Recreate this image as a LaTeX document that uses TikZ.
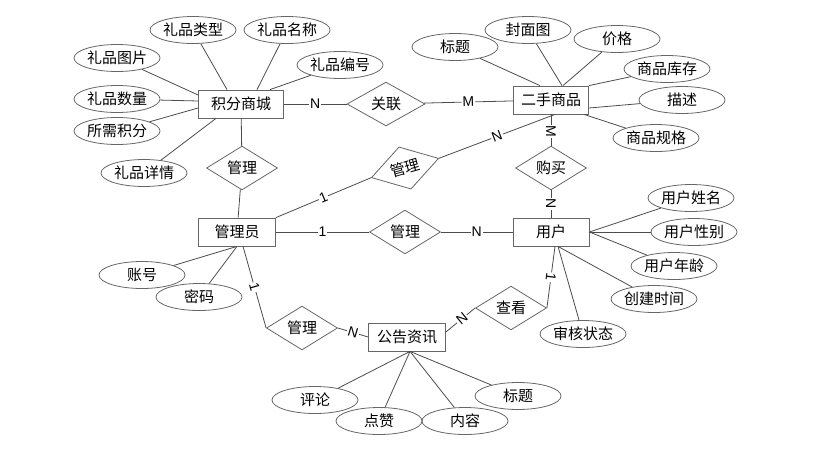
\documentclass[tikz,border=0pt]{standalone}
\usepackage{fontspec}
\setmainfont{Liberation Sans}
\newfontfamily\cjk{Noto Sans CJK SC}
\usetikzlibrary{shapes.geometric, positioning}

\begin{document}
\begin{tikzpicture}[x=1pt, y=-1pt, line width=0.8pt]
    % Define the styles
    \tikzset{
        entity/.style = {draw=black!60, rectangle, minimum width=76pt, minimum height=28pt, inner sep=0pt, font=\cjk\fontsize{15}{18}\selectfont},
        attr/.style = {draw=black!60, ellipse, minimum width=86pt, minimum height=27pt, inner sep=0pt, font=\cjk\fontsize{15}{18}\selectfont},
        rel/.style = {draw=black!60, diamond, minimum width=71pt, minimum height=42pt, inner sep=0pt, font=\cjk\fontsize{15}{18}\selectfont},
        line/.style = {draw=black!70},
        card/.style = {fill=white, inner sep=1pt, font=\fontsize{14}{16}\selectfont, sloped, allow upside down},
    }
    \useasboundingbox (0,0) rectangle (816,456);

    % Entities
    \node [entity, minimum width=85pt] (jf) at (241,104) {积分商城};
    \node [entity, minimum width=75pt] (es) at (551,100) {二手商品};
    \node [entity, minimum width=77pt] (gly) at (237,232) {管理员};
    \node [entity] (yh) at (551,232) {用户};
    \node [entity, minimum width=77pt] (ggzx) at (407,337) {公告资讯};

    % Relations
    \node [rel, minimum width=78pt] (gx) at (386,104) {关联};
    \node [rel] (gl1) at (242,168) {管理};
    \node [rel, rotate=16, minimum width=70pt, minimum height=43pt] (gl2) at (405,168) {管理};
    \node [rel] (gl3) at (405,232) {管理};
    \node [rel] (gm) at (551,168) {购买};
    \node [rel] (gl4) at (302,328) {管理};
    \node [rel] (ck) at (511,308) {查看};

    % Attributes of 积分商城
    \node [attr] (lplx) at (193,30) {礼品类型};
    \node [attr] (lpmc) at (287,30) {礼品名称};
    \node [attr] (lptp) at (117,58) {礼品图片};
    \node [attr] (lpbh) at (340,65) {礼品编号};
    \node [attr] (lpsl) at (117,99) {礼品数量};
    \node [attr] (sxjf) at (117,131) {所需积分};
    \node [attr] (lpxq) at (144,173) {礼品详情};

    % Attributes of 二手商品
    \node [attr] (bt) at (455,47) {标题};
    \node [attr] (fmt) at (528,30) {封面图};
    \node [attr] (jg) at (617,39) {价格};
    \node [attr] (kc) at (667,69) {商品库存};
    \node [attr] (ms) at (682,100) {描述};
    \node [attr] (spgg) at (656,138) {商品规格};

    % Attributes of 用户
    \node [attr] (yhxm) at (691,198) {用户姓名};
    \node [attr] (yhxb) at (694,232) {用户性别};
    \node [attr] (yhnl) at (674,266) {用户年龄};
    \node [attr] (cjsj) at (654,299) {创建时间};
    \node [attr] (shzt) at (583,334) {审核状态};

    % Attributes of 管理员 and 公告资讯
    \node [attr] (zh) at (142,275) {账号};
    \node [attr] (mm) at (199,297) {密码};
    \node [attr] (pl) at (315,400) {评论};
    \node [attr] (dz) at (379,421) {点赞};
    \node [attr] (nr) at (465,421) {内容};
    \node [attr] (bt2) at (518,396) {标题};

    % Attribute lines
    \draw [line] (lptp) -- ([yshift=9pt]jf.west);
    \draw [line] (lpsl) -- ([yshift=3pt]jf.west);
    \draw [line] (sxjf) -- ([yshift=-4pt]jf.west);
    \draw [line] (lpxq) -- ([xshift=-25pt]jf.south);
    \draw [line] (lplx) -- ([xshift=-14pt]jf.north);
    \draw [line] (lpmc) -- ([xshift=16pt]jf.north);
    \draw [line] (lpbh) -- ([xshift=29pt]jf.north);

    \draw [line] (bt) -- ([xshift=-11pt]es.north);
    \draw [line] (fmt) -- ([xshift=11pt]es.north);
    \draw [line] (jg) -- ([xshift=12pt]es.north);
    \draw [line] (kc) -- (es.north east);
    \draw [line] (ms) -- ([yshift=-8pt]es.east);
    \draw [line] (spgg) -- ([xshift=33pt]es.south);

    \draw [line] (yhxm) -- (yh.east);
    \draw [line] (yhxb) -- (yh.east);
    \draw [line] (yhnl) -- (yh.east);
    \draw [line] (cjsj) -- ([xshift=7pt]yh.south);
    \draw [line] (shzt) -- ([xshift=7pt]yh.south);

    \draw [line] (zh) -- (gly.south);
    \draw [line] (mm) -- (gly.south);

    \draw [line] (pl) -- ([xshift=3pt]ggzx.south);
    \draw [line] (dz) -- ([xshift=3pt]ggzx.south);
    \draw [line] (nr) -- ([xshift=3pt]ggzx.south);
    \draw [line] (bt2) -- ([xshift=3pt]ggzx.south);

    % Relation lines
    \draw [line] (jf) -- node [card] {N} (gx);
    \draw [line] (gx) -- node [card] {M} (es);
    \draw [line] (jf) -- (gl1);
    \draw [line] (gl1) -- (gly);
    \draw [line] (gly.north east) -- node [card] {1} (gl2.west);
    \draw [line] (gl2.east) -- node [card] {N} ([xshift=4pt]es.south);
    \draw [line] (gly) -- node [card] {1} (gl3);
    \draw [line] (gl3) -- node [card] {N} (yh);
    \draw [line] (es) -- node [card, pos=0.55] {M} (gm);
    \draw [line] (gm) -- node [card] {N} (yh);
    \draw [line] ([xshift=6pt]gly.south) -- node [card] {1} (gl4.west);
    \draw [line] (gl4.east) -- node [card] {N} (ggzx.west);
    \draw [line] ([yshift=5pt]ggzx.east) -- node [card, pos=0.55] {N} (ck.west);
    \draw [line] ([xshift=4pt]yh.south) -- node [card] {1} (ck.east);

\end{tikzpicture}
\end{document}
